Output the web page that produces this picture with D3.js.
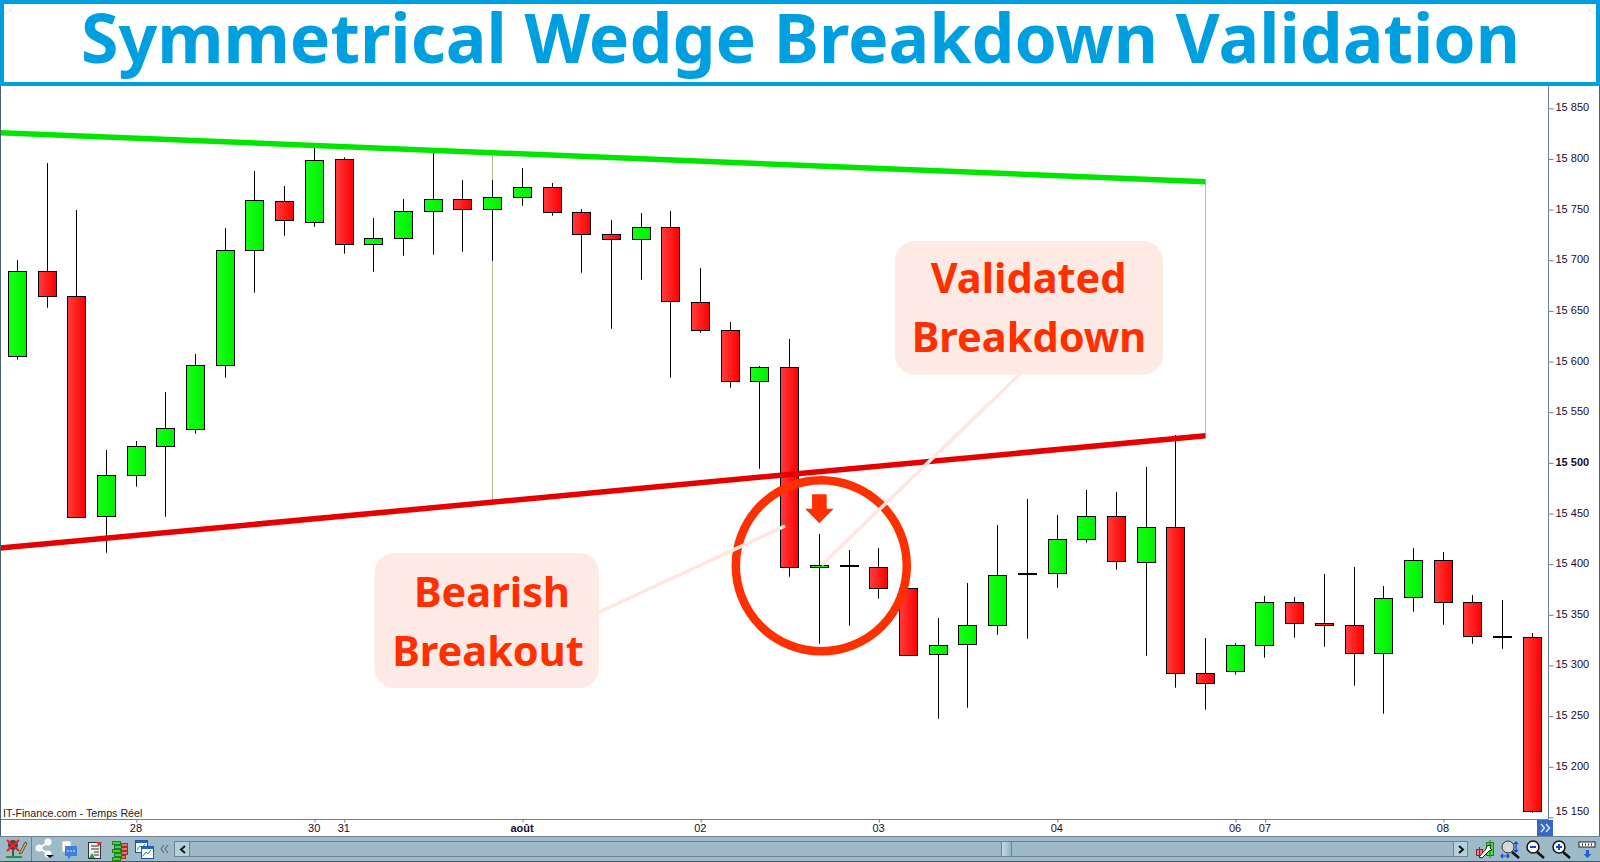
<!DOCTYPE html>
<html>
<head>
<meta charset="utf-8">
<script src="https://cdn.jsdelivr.net/npm/d3@7"></script>
<style>
  html, body { margin: 0; padding: 0; background: #fff; overflow: hidden; }
  svg { display: block; }
  .axis text { font-family: "Liberation Sans", Arial, sans-serif; font-size: 11px; fill: #1a0a30; }
  .axis path, .axis line { stroke: #708090; }
</style>
</head>
<body>
<script>
// candles, oldest first
var opens = [15605.2,15689.1,15664.4,15447.2,15487.7,15516.3,15533.1,15596.3,15709.8,15758.2,15737.5,15799.7,15715.7,
  15721.7,15748.3,15760.2,15750.3,15762.1,15772.0,15747.3,15725.6,15720.7,15732.5,15658.5,15630.8,15580.5,15594.3,
  15396.9,15398.5,15396.9,15376.2,15311.0,15320.9,15339.6,15390.6,15391.0,15424.5,15447.2,15401.8,15436.4,15292.2,
  15294.2,15319.9,15362.3,15341.6,15339.6,15312.0,15367.3,15403.8,15362.3,15328.4,15327.8];
var closes = [15689.1,15664.4,15446.2,15487.7,15516.3,15534.1,15596.3,15709.8,15759.2,15739.4,15798.7,15715.7,15721.7,
  15748.3,15760.2,15750.3,15762.1,15772.0,15747.3,15725.6,15720.7,15732.5,15659.5,15630.8,15580.5,15594.3,15396.9,
  15398.9,15398.5,15376.2,15310.0,15319.9,15339.6,15389.0,15390.6,15424.5,15447.2,15402.8,15436.4,15292.2,15282.4,
  15319.9,15362.3,15341.6,15339.6,15312.0,15366.3,15403.8,15362.3,15328.8,15328.4,15156.0];
var highs = [15700.2,15796.0,15749.6,15512.7,15521.6,15569.9,15607.5,15731.8,15788.1,15773.3,15815.7,15801.6,15741.7,
  15760.5,15806.2,15779.2,15779.2,15791.1,15776.3,15750.6,15739.7,15746.6,15748.6,15692.3,15639.0,15595.6,15622.3,
  15429.8,15414.0,15415.9,15376.2,15346.8,15381.4,15438.6,15464.3,15448.5,15473.2,15471.2,15495.9,15527.5,15327.1,
  15321.9,15368.6,15367.6,15390.3,15397.2,15378.4,15415.9,15412.0,15369.5,15364.6,15332.0];
var lows = [15601.8,15653.2,15446.2,15411.3,15476.5,15446.8,15528.8,15584.1,15668.0,15724.2,15733.1,15706.5,15688.7,
  15704.5,15705.5,15708.4,15699.6,15753.8,15744.0,15687.7,15632.4,15680.8,15584.1,15628.5,15574.2,15494.2,15387.6,
  15321.5,15339.2,15365.9,15310.0,15247.4,15258.3,15330.3,15326.4,15376.7,15421.2,15394.5,15309.6,15278.0,15256.3,
  15290.9,15307.6,15327.4,15318.5,15280.0,15252.4,15353.1,15340.2,15321.5,15316.5,15154.6];
var dojis = [28, 34, 50];

var priceTicks = [15150,15200,15250,15300,15350,15400,15450,15500,15550,15600,15650,15700,15750,15800,15850];
var dateTicks = [4,10,11,17,23,29,35,41,42,48];
var dateLabels = ["28","30","31","août","02","03","04","06","07","08"];

// wedge lines as [candle index, price]
var upperLine = [[-0.582,15825.9],[40,15777.6]];
var lowerLine = [[-0.582,15415.9],[40,15526.8]];
var markIndex = 27; // candle under the arrow
var markPrice = 15399;

var width = 1600, height = 862;
var accent = "#ff3000";

var svg = d3.select("body").append("svg").attr("width", width).attr("height", height);

var x = d3.scaleLinear().domain([0, opens.length - 1]).range([17.3, 1532.3]);
var y = d3.scaleLinear().domain([15150, 15850]).range([817.4, 108.3]);

function snap(v) { return Math.floor(v) + 0.5; }

var defs = svg.append("defs");
function gradient(id, from, to) {
  var g = defs.append("linearGradient").attr("id", id);
  g.append("stop").attr("offset", "0%").attr("stop-color", from);
  g.append("stop").attr("offset", "100%").attr("stop-color", to);
}
gradient("up", "#16ff16", "#00f000");
gradient("down", "#ff3c3c", "#ff0000");
gradient("thumb", "#c4dde6", "#8fb2c0");

// thin verticals joining the two wedge lines
var upperAt = d3.scaleLinear().domain([upperLine[0][0], upperLine[1][0]]).range([upperLine[0][1], upperLine[1][1]]);
var lowerAt = d3.scaleLinear().domain([lowerLine[0][0], lowerLine[1][0]]).range([lowerLine[0][1], lowerLine[1][1]]);
[[16, "#bcbc8c"], [40, "#b8bcb4"]].forEach(function (d) {
  svg.append("line")
    .attr("x1", snap(x(d[0]))).attr("x2", snap(x(d[0])))
    .attr("y1", y(upperAt(d[0]))).attr("y2", y(lowerAt(d[0])))
    .attr("stroke", d[1]).attr("stroke-width", 1);
});

// axes
var fmt = d3.formatLocale({ decimal: ".", thousands: " ", grouping: [3], currency: ["", ""] }).format(",d");

var yAxis = svg.append("g").attr("class", "axis").attr("transform", "translate(1548.5,0)")
  .call(d3.axisRight(y).tickValues(priceTicks).tickSize(5).tickPadding(2).tickFormat(fmt));
yAxis.select(".domain").attr("d", "M0,84V819.5");
// the lowest label sits above its tick, as the platform keeps it clear of the time axis
yAxis.selectAll(".tick text")
  .attr("y", function (d) { return d === 15150 ? -6 : -1; })
  .style("font-weight", function (d) { return d === 15500 ? "bold" : null; });

var xAxis = svg.append("g").attr("class", "axis").attr("transform", "translate(0,819.5)")
  .call(d3.axisBottom(x).tickValues(dateTicks).tickSize(3).tickPadding(2)
    .tickFormat(function (d, i) { return dateLabels[i]; }));
xAxis.select(".domain").attr("d", "M0,0H1548.5");
xAxis.selectAll(".tick line").attr("transform", "translate(0.2,0)");
xAxis.selectAll(".tick text").attr("dx", -0.7)
  .style("font-weight", function (d) { return d === 17 ? "bold" : null; });

// candles
var candles = svg.append("g").selectAll("g").data(d3.range(opens.length)).join("g");
candles.append("line")
  .attr("x1", function (i) { return snap(x(i)); })
  .attr("x2", function (i) { return snap(x(i)); })
  .attr("y1", function (i) { return y(highs[i]); })
  .attr("y2", function (i) { return y(lows[i]); })
  .attr("stroke", "#000").attr("stroke-width", 1);
candles.append("rect")
  .attr("x", function (i) { return snap(x(i)) - 9; })
  .attr("width", 18)
  .attr("y", function (i) { return snap(y(Math.max(opens[i], closes[i]))); })
  .attr("height", function (i) {
    var h = snap(y(Math.min(opens[i], closes[i]))) - snap(y(Math.max(opens[i], closes[i])));
    return Math.max(h, 1);
  })
  .attr("fill", function (i) {
    if (dojis.indexOf(i) >= 0) return "#000";
    return closes[i] >= opens[i] ? "url(#up)" : "url(#down)";
  })
  .attr("stroke", "#000").attr("stroke-width", 1);

// wedge lines
var wedge = d3.line().x(function (d) { return x(d[0]); }).y(function (d) { return y(d[1]); });
svg.append("path").attr("d", wedge(upperLine)).attr("fill", "none").attr("stroke", "#00e600").attr("stroke-width", 5.5);
svg.append("path").attr("d", wedge(lowerLine)).attr("fill", "none").attr("stroke", "#e60000").attr("stroke-width", 5.5);

// circle and arrow around the breakout
svg.append("circle").attr("cx", 821.3).attr("cy", 565.8).attr("r", 85.5)
  .attr("fill", "none").attr("stroke", accent).attr("stroke-width", 8.5);

var ax = x(markIndex), ay = y(markPrice) - 71;
svg.append("path")
  .attr("d", "M" + (ax - 7.3) + "," + ay + "h14.6v14.7h7l-14.3,14.3l-14.3,-14.3h7z")
  .attr("fill", accent);

// callouts
function callout(x0, y0, w, h, lines) {
  svg.append("rect").attr("x", x0).attr("y", y0).attr("width", w).attr("height", h)
    .attr("rx", 20).attr("fill", "#fdeae5");
  lines.forEach(function (d) {
    svg.append("text").attr("x", d[1]).attr("y", d[2]).attr("text-anchor", "middle")
      .attr("font-family", "'Noto Sans'").attr("font-weight", 700).attr("font-size", 41.5)
      .attr("fill", accent).text(d[0]);
  });
}
svg.append("line").attr("x1", 599).attr("y1", 612).attr("x2", 785).attr("y2", 526)
  .attr("stroke", "#ffe6e0").attr("stroke-width", 3.5);
svg.append("line").attr("x1", 1020).attr("y1", 374).attr("x2", 821.7).attr("y2", 565)
  .attr("stroke", "#ffe6e0").attr("stroke-width", 3.5);
callout(374.5, 553, 224.5, 135, [["Bearish", 492, 607], ["Breakout", 488, 666]]);
callout(895, 241, 268, 133.5, [["Validated", 1028.6, 293], ["Breakdown", 1029, 352]]);

// title banner
svg.append("rect").attr("x", 2).attr("y", 2).attr("width", width - 4).attr("height", 82)
  .attr("fill", "#fff").attr("stroke", "#00a0e0").attr("stroke-width", 4);
svg.append("text").attr("x", 800.5).attr("y", 63).attr("text-anchor", "middle")
  .attr("font-family", "'Noto Sans'").attr("font-weight", 700).attr("font-size", 68)
  .attr("fill", "#00a0e0").text("Symmetrical Wedge Breakdown Validation");

// window edges
svg.append("line").attr("x1", 0.5).attr("x2", 0.5).attr("y1", 86).attr("y2", 836).attr("stroke", "#4a6070");
svg.append("line").attr("x1", 1599.5).attr("x2", 1599.5).attr("y1", 86).attr("y2", 836).attr("stroke", "#4a6070");

svg.append("text").attr("x", 3).attr("y", 817).attr("font-family", "'Liberation Sans'")
  .attr("font-size", 10.7).attr("fill", "#222").text("IT-Finance.com - Temps Réel");

// toolbar
var bar = svg.append("g");
bar.append("rect").attr("x", 0).attr("y", 836).attr("width", width).attr("height", 26).attr("fill", "#9cbac8");
bar.append("line").attr("x1", 0).attr("x2", width).attr("y1", 836.5).attr("y2", 836.5).attr("stroke", "#708090");
bar.append("line").attr("x1", 0).attr("x2", width).attr("y1", 861.5).attr("y2", 861.5).attr("stroke", "#3e5666");
bar.append("line").attr("x1", 31.5).attr("x2", 31.5).attr("y1", 837).attr("y2", 861).attr("stroke", "#708090");

// scroll bar
bar.append("rect").attr("x", 174.5).attr("y", 841.5).attr("width", 1293).attr("height", 15)
  .attr("fill", "#9cbac8").attr("stroke", "#708090");
[[174.5, 15, "M185,846l-4,3.5l4,3.5"], [1453.5, 14, "M1459,846l4,3.5l-4,3.5"]].forEach(function (d) {
  bar.append("rect").attr("x", d[0]).attr("y", 841.5).attr("width", d[1]).attr("height", 15)
    .attr("fill", "#b4d0da").attr("stroke", "#708090");
  bar.append("path").attr("d", d[2]).attr("fill", "none").attr("stroke", "#111").attr("stroke-width", 2);
});
bar.append("rect").attr("x", 1001.5).attr("y", 841.5).attr("width", 10).attr("height", 15)
  .attr("fill", "url(#thumb)").attr("stroke", "#708090");

// blue scroll button
svg.append("rect").attr("x", 1537).attr("y", 820).attr("width", 16).attr("height", 16).attr("fill", "#3568c4");
svg.append("path").attr("d", "M1541,824l3.5,4l-3.5,4M1546,824l3.5,4l-3.5,4")
  .attr("fill", "none").attr("stroke", "#dfe8f8").attr("stroke-width", 1.4);

function shape(d, fill, stroke, sw) {
  bar.append("path").attr("d", d).attr("fill", fill || "none")
    .attr("stroke", stroke || "none").attr("stroke-width", sw || 1);
}
function box(x0, y0, w, h, fill, stroke) {
  bar.append("rect").attr("x", x0).attr("y", y0).attr("width", w).attr("height", h)
    .attr("fill", fill).attr("stroke", stroke || "none");
}
function dot(cx, cy, r, fill, stroke, sw) {
  bar.append("circle").attr("cx", cx).attr("cy", cy).attr("r", r)
    .attr("fill", fill).attr("stroke", stroke || "none").attr("stroke-width", sw || 1);
}

// left icons
dot(13, 845, 5, "#444");
shape("M13,850v6M8,857h10", null, "#333", 1.5);
shape("M6,857h16", null, "#1a9a30", 2);
shape("M7,840l12,11M19,840l-12,11", null, "#f02020", 2.2);
shape("M20,852l5,-10l2,1l-5,10l-3,1z", "#e8b040", "#555");
// share
shape("M49,842l-10,6l10,6", null, "#fff", 2);
dot(39, 848, 3.5, "#fff"); dot(48, 842, 3.5, "#fff"); dot(48, 854, 3.5, "#fff");
shape("M46,855h8l-4,3z", "#111");
// note and speech bubble
box(62, 841, 9, 11, "#fff", "#bbb");
shape("M65,846h12v10h-6l-3,4v-4h-3z", "#3f7fe0");
dot(68, 851, 0.8, "#fff"); dot(71, 851, 0.8, "#fff"); dot(74, 851, 0.8, "#fff");
// list document
box(88.5, 842.5, 12, 16, "#f2f2f2", "#333");
shape("M91,846h8M91,849h8M94,852h5M94,855h5", null, "#333");
shape("M96,842h6l-3,4z", "#e03030");
shape("M89,858l3,-5l3,5z", "#20a040");
// bricks
[[112,841,8],[114,845,8],[112,849,8],[114,853,8],[112,857,8]].forEach(function (d) {
  box(d[0] + 0.5, d[1] + 0.5, d[2], 3, "#40d040", "#208020");
});
[[121,843,6],[121,847,6],[121,851,6],[121,855,4]].forEach(function (d) {
  box(d[0] + 0.5, d[1] + 0.5, d[2], 3, "#e87070", "#a03030");
});
// two windows
box(135.5, 840.5, 12, 12, "#fff", "#1f4fa8");
box(135.5, 840.5, 12, 2.5, "#2a62c8");
shape("M137,850l3,-4l2,2l3,-4", null, "#20a040");
box(141.5, 846.5, 12, 12, "#fff", "#1f4fa8");
box(141.5, 846.5, 12, 2.5, "#2a62c8");
shape("M143,856l3,-4l2,2l3,-4", null, "#20a040");
shape("M164,845l-3,4l3,4M168,845l-3,4l3,4", null, "#607080", 1.2);

// right icons
box(1476.5, 849.5, 6, 6, "#e08080", "#a02020");
shape("M1479.5,847v11", null, "#a02020");
box(1486.5, 842.5, 7, 13, "#40e040", "#208020");
shape("M1490,840v18", null, "#208020");
shape("M1479,857l7,-8l1,-3l4,-1l-1,3l2,2l-3,1l-7,7z", "#fff", "#222");
dot(1508, 847, 6, "#d8d8d8", "#333", 1);
shape("M1512,852l7,6", null, "#111", 2.5);
shape("M1516,843v8M1514,844l2,-2l2,2M1514,850l2,2l2,-2M1501,856h8M1503,854l-2,2l2,2M1507,854l2,2l-2,2", null, "#1040e0", 1.2);
dot(1533, 847, 6, "#fff", "#111", 1.5);
shape("M1530,847h6", null, "#1040e0", 2);
shape("M1537,852l7,6", null, "#111", 2.5);
dot(1559, 847, 6, "#fff", "#111", 1.5);
shape("M1556,847h6M1559,844v6", null, "#1040e0", 2);
shape("M1563,852l7,6", null, "#111", 2.5);
box(1579, 842, 16, 5, "#fff", "#222");
shape("M1582,844.5h1M1585,844.5h1M1588,844.5h1M1591,844.5h1", null, "#222", 2);
shape("M1586,850h3v4h2.5l-4,4l-4,-4h2.5z", "#2060d0");
</script>
</body>
</html>
